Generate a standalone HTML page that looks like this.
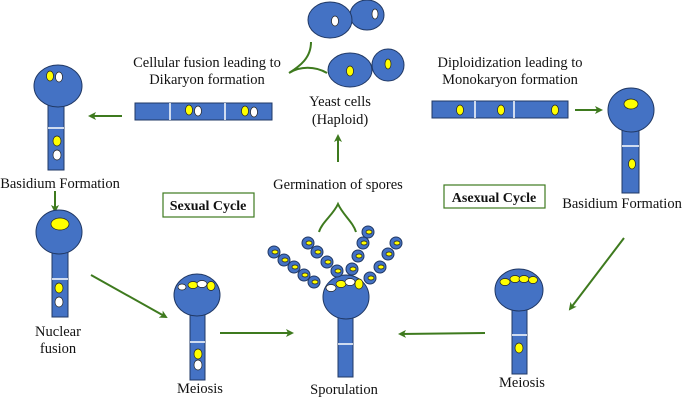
<!DOCTYPE html>
<html><head><meta charset="utf-8"><style>
html,body{margin:0;padding:0;background:#fff;}
svg{display:block;}
text{font-family:"Liberation Serif",serif;font-size:14.5px;fill:#111;}
.b{fill:#4472c4;stroke:#203864;stroke-width:1;}
.y{fill:#ffff00;stroke:#222;stroke-width:0.7;}
.w{fill:#fff;stroke:#222;stroke-width:0.7;}
.a{stroke:#3e7a1e;stroke-width:2;fill:none;}
.sep{stroke:#fff;stroke-width:1.5;}
</style></head><body>
<svg width="685" height="401" viewBox="0 0 685 401" xmlns="http://www.w3.org/2000/svg">
<defs><marker id="m" markerWidth="8" markerHeight="8" refX="6" refY="4" orient="auto" markerUnits="userSpaceOnUse"><path d="M0,0 L8,4 L0,8 L2,4 Z" fill="#3e7a1e"/></marker></defs>

<!-- Top-left basidium -->
<rect class="b" x="48" y="100" width="16" height="70"/>
<ellipse class="b" cx="58" cy="86" rx="24" ry="21"/>
<line class="sep" x1="48" y1="128" x2="64" y2="128"/>
<ellipse class="y" cx="50" cy="76" rx="3.5" ry="5"/>
<ellipse class="w" cx="59" cy="77" rx="3.5" ry="5"/>
<ellipse class="y" cx="57" cy="141" rx="4" ry="5"/>
<ellipse class="w" cx="57" cy="155" rx="4" ry="5"/>
<text x="60" y="188" text-anchor="middle">Basidium Formation</text>

<!-- Dikaryon hypha -->
<rect class="b" x="135" y="103" width="137" height="17"/>
<line class="sep" x1="170" y1="103" x2="170" y2="120"/>
<line class="sep" x1="225" y1="103" x2="225" y2="120"/>
<ellipse class="y" cx="189" cy="110" rx="3.5" ry="5"/>
<ellipse class="w" cx="198" cy="111" rx="3.5" ry="5"/>
<ellipse class="y" cx="245" cy="111" rx="3.5" ry="5"/>
<ellipse class="w" cx="254" cy="112" rx="3.5" ry="5"/>
<line class="a" x1="122" y1="116" x2="90" y2="116" marker-end="url(#m)"/>
<text x="207" y="67" text-anchor="middle">Cellular fusion leading to</text>
<text x="207" y="84" text-anchor="middle">Dikaryon formation</text>

<!-- Yeast cells -->
<ellipse class="b" cx="367" cy="15" rx="17" ry="15"/>
<ellipse class="w" cx="375" cy="14" rx="3" ry="5"/>
<ellipse class="b" cx="330" cy="20" rx="22" ry="18"/>
<ellipse class="w" cx="335" cy="21" rx="3.5" ry="5"/>
<ellipse class="b" cx="388" cy="65" rx="16" ry="16"/>
<ellipse class="y" cx="388" cy="64" rx="3" ry="5"/>
<ellipse class="b" cx="350" cy="70" rx="22" ry="17"/>
<ellipse class="y" cx="350" cy="71" rx="3.5" ry="5"/>
<path class="a" d="M311,42 C311,58 300,66 289,73 C300,66 315,66 327,73"/>
<text x="340" y="106" text-anchor="middle">Yeast cells</text>
<text x="340" y="124" text-anchor="middle">(Haploid)</text>
<line class="a" x1="338" y1="162" x2="338" y2="136" marker-end="url(#m)"/>
<text x="338" y="189" text-anchor="middle">Germination of spores</text>
<path class="a" d="M319,232 C322,222 333,215 338,204 C343,215 353,222 356,232"/>

<!-- Sporulation -->
<rect class="b" x="338" y="313" width="15" height="64"/>
<ellipse class="b" cx="346" cy="297" rx="23" ry="22"/>
<line class="sep" x1="338" y1="344" x2="353" y2="344"/>
<ellipse class="w" cx="331" cy="288" rx="5" ry="3.5"/>
<ellipse class="y" cx="341" cy="284" rx="5" ry="3.5"/>
<ellipse class="w" cx="350" cy="282" rx="5" ry="3.5"/>
<ellipse class="y" cx="359" cy="284" rx="4" ry="5"/>
<g>
<circle class="b" cx="274" cy="252" r="6"/><ellipse class="y" cx="275" cy="252" rx="3" ry="2"/>
<circle class="b" cx="284" cy="260" r="6"/><ellipse class="y" cx="285" cy="260" rx="3" ry="2"/>
<circle class="b" cx="294" cy="267" r="6"/><ellipse class="y" cx="295" cy="267" rx="3" ry="2"/>
<circle class="b" cx="304" cy="275" r="6"/><ellipse class="y" cx="305" cy="275" rx="3" ry="2"/>
<circle class="b" cx="314" cy="282" r="6"/><ellipse class="y" cx="315" cy="282" rx="3" ry="2"/>
<circle class="b" cx="308" cy="243" r="6"/><ellipse class="y" cx="309" cy="243" rx="3" ry="2"/>
<circle class="b" cx="317" cy="252" r="6"/><ellipse class="y" cx="318" cy="252" rx="3" ry="2"/>
<circle class="b" cx="327" cy="262" r="6"/><ellipse class="y" cx="328" cy="262" rx="3" ry="2"/>
<circle class="b" cx="337" cy="271" r="6"/><ellipse class="y" cx="338" cy="271" rx="3" ry="2"/>
<circle class="b" cx="368" cy="232" r="6"/><ellipse class="y" cx="369" cy="232" rx="3" ry="2"/>
<circle class="b" cx="363" cy="243" r="6"/><ellipse class="y" cx="364" cy="243" rx="3" ry="2"/>
<circle class="b" cx="358" cy="256" r="6"/><ellipse class="y" cx="359" cy="256" rx="3" ry="2"/>
<circle class="b" cx="352" cy="269" r="6"/><ellipse class="y" cx="353" cy="269" rx="3" ry="2"/>
<circle class="b" cx="396" cy="243" r="6"/><ellipse class="y" cx="397" cy="243" rx="3" ry="2"/>
<circle class="b" cx="388" cy="254" r="6"/><ellipse class="y" cx="389" cy="254" rx="3" ry="2"/>
<circle class="b" cx="380" cy="267" r="6"/><ellipse class="y" cx="381" cy="267" rx="3" ry="2"/>
<circle class="b" cx="370" cy="278" r="6"/><ellipse class="y" cx="371" cy="278" rx="3" ry="2"/>
</g>
<text x="344" y="394" text-anchor="middle">Sporulation</text>

<!-- Sexual cycle box -->
<rect x="163" y="193" width="91" height="24" fill="#fff" stroke="#3e7a1e" stroke-width="1.2"/>
<text x="208" y="210" text-anchor="middle" font-weight="bold" style="font-size:14px">Sexual Cycle</text>

<!-- Nuclear fusion -->
<line class="a" x1="55" y1="191" x2="55" y2="211" marker-end="url(#m)"/>
<rect class="b" x="52" y="250" width="16" height="67"/>
<ellipse class="b" cx="59" cy="232" rx="23" ry="22"/>
<line class="sep" x1="52" y1="279" x2="68" y2="279"/>
<ellipse class="y" cx="60" cy="224" rx="9" ry="6"/>
<ellipse class="y" cx="59" cy="288" rx="4" ry="5"/>
<ellipse class="w" cx="59" cy="302" rx="4" ry="5"/>
<text x="58" y="336" text-anchor="middle">Nuclear</text>
<text x="58" y="353" text-anchor="middle">fusion</text>
<line class="a" x1="91" y1="275" x2="166" y2="317" marker-end="url(#m)"/>

<!-- Meiosis left -->
<rect class="b" x="190" y="310" width="15" height="70"/>
<ellipse class="b" cx="197" cy="295" rx="23" ry="21"/>
<line class="sep" x1="190" y1="342" x2="205" y2="342"/>
<ellipse class="w" cx="182" cy="287" rx="4" ry="3"/>
<ellipse class="y" cx="193" cy="285" rx="5" ry="3.5"/>
<ellipse class="w" cx="202" cy="284" rx="5" ry="3.5"/>
<ellipse class="y" cx="211" cy="286" rx="4" ry="4.5"/>
<ellipse class="y" cx="198" cy="354" rx="4" ry="5"/>
<ellipse class="w" cx="198" cy="365" rx="4" ry="5"/>
<text x="200" y="393" text-anchor="middle">Meiosis</text>
<line class="a" x1="220" y1="333" x2="292" y2="333" marker-end="url(#m)"/>

<!-- Right side -->
<text x="510" y="67" text-anchor="middle">Diploidization leading to</text>
<text x="510" y="84" text-anchor="middle">Monokaryon formation</text>
<rect class="b" x="432" y="101" width="136" height="17"/>
<line class="sep" x1="475" y1="101" x2="475" y2="118"/>
<line class="sep" x1="514" y1="101" x2="514" y2="118"/>
<ellipse class="y" cx="460" cy="110" rx="3.5" ry="5"/>
<ellipse class="y" cx="501" cy="110" rx="3.5" ry="5"/>
<ellipse class="y" cx="555" cy="110" rx="3.5" ry="5"/>
<line class="a" x1="575" y1="110" x2="601" y2="110" marker-end="url(#m)"/>
<rect class="b" x="622" y="128" width="17" height="65"/>
<ellipse class="b" cx="631" cy="110" rx="23" ry="22"/>
<line class="sep" x1="622" y1="146" x2="639" y2="146"/>
<ellipse class="y" cx="631" cy="104" rx="7" ry="5"/>
<ellipse class="y" cx="632" cy="164" rx="3.5" ry="5"/>
<rect x="444" y="185" width="101" height="23" fill="#fff" stroke="#3e7a1e" stroke-width="1.2"/>
<text x="494" y="202" text-anchor="middle" font-weight="bold" style="font-size:14px">Asexual Cycle</text>
<text x="622" y="208" text-anchor="middle">Basidium Formation</text>
<line class="a" x1="624" y1="238" x2="570" y2="309" marker-end="url(#m)"/>

<!-- Meiosis right -->
<rect class="b" x="512" y="308" width="15" height="66"/>
<ellipse class="b" cx="519" cy="290" rx="24" ry="21"/>
<line class="sep" x1="512" y1="335" x2="527" y2="335"/>
<ellipse class="y" cx="505" cy="282" rx="5" ry="3.5"/>
<ellipse class="y" cx="515" cy="279" rx="5" ry="3.5"/>
<ellipse class="y" cx="524" cy="279" rx="5" ry="3.5"/>
<ellipse class="y" cx="533" cy="280" rx="4.5" ry="3.5"/>
<ellipse class="y" cx="519" cy="348" rx="4" ry="5"/>
<text x="522" y="387" text-anchor="middle">Meiosis</text>
<line class="a" x1="485" y1="333" x2="400" y2="334" marker-end="url(#m)"/>
</svg>
</body></html>
